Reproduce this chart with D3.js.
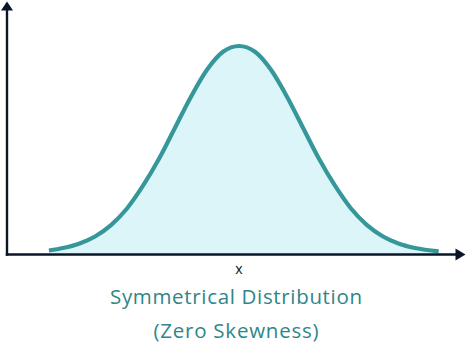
<!DOCTYPE html>
<html>
<head>
<meta charset="utf-8">
<script src="https://cdn.jsdelivr.net/npm/d3@7"></script>
<style>
  body { margin: 0; background: #fff; }
  svg { display: block; }
</style>
</head>
<body>
<svg id="chart"></svg>
<script>
// curve: x in standard deviations, y as share of peak height
const xValues = [-2.97, -2.75, -2.5, -2.25, -2.0, -1.75, -1.5, -1.25, -1.0, -0.75, -0.5, -0.25, 0,
  0.25, 0.5, 0.75, 1.0, 1.25, 1.5, 1.75, 2.0, 2.25, 2.5, 2.75, 3.12]
const yValues = [0.012, 0.024, 0.045, 0.08, 0.135, 0.215, 0.325, 0.455, 0.605, 0.755, 0.885, 0.972, 1,
  0.972, 0.885, 0.755, 0.605, 0.455, 0.325, 0.215, 0.135, 0.08, 0.045, 0.024, 0.008]
const xLabel = 'x'
const titleLines = ['Symmetrical Distribution', '(Zero Skewness)']
const titleWidths = [252, 165]

const width = 467
const height = 351
const originX = 7
const originY = 254.5

const svg = d3.select('#chart')
  .attr('width', width)
  .attr('height', height)

const xScale = d3.scaleLinear()
  .domain([-3, 3])
  .range([239 - 3 * 64, 239 + 3 * 64])
const yScale = d3.scaleLinear()
  .domain([0, 1])
  .range([253, 46])

const points = xValues.map((x, i) => ({ x: x, y: yValues[i] }))

const area = d3.area()
  .x((d) => xScale(d.x))
  .y0(originY - 1)
  .y1((d) => yScale(d.y))
  .curve(d3.curveMonotoneX)

const line = d3.line()
  .x((d) => xScale(d.x))
  .y((d) => yScale(d.y))
  .curve(d3.curveMonotoneX)

svg.append('path')
  .datum(points)
  .attr('d', area)
  .style('fill', '#dbf5f9')

svg.append('path')
  .datum(points)
  .attr('d', line)
  .style('fill', 'none')
  .style('stroke', '#36979a')
  .style('stroke-width', 4.2)

// axes with arrow heads
const axisColor = '#0b1528'
svg.append('line')
  .attr('x1', originX).attr('y1', 9)
  .attr('x2', originX).attr('y2', originY + 1.2)
  .style('stroke', axisColor)
  .style('stroke-width', 2.4)
svg.append('line')
  .attr('x1', originX - 1.2).attr('y1', originY)
  .attr('x2', 457).attr('y2', originY)
  .style('stroke', axisColor)
  .style('stroke-width', 2.4)
svg.append('path')
  .attr('d', `M${originX},1.5 L${originX + 6},10.5 L${originX - 6},10.5 Z`)
  .style('fill', axisColor)
svg.append('path')
  .attr('d', `M465.5,${originY} L455.5,${originY - 6} L455.5,${originY + 6} Z`)
  .style('fill', axisColor)

svg.append('text')
  .attr('x', 239)
  .attr('y', 273.5)
  .style('text-anchor', 'middle')
  .style('font-family', '"Open Sans", sans-serif')
  .style('font-size', '14px')
  .style('fill', '#111')
  .text(xLabel)

svg.selectAll('.title')
  .data(titleLines)
  .enter()
  .append('text')
  .classed('title', true)
  .attr('x', 236)
  .attr('y', (d, i) => 304 + i * 34)
  .attr('textLength', (d, i) => titleWidths[i])
  .attr('lengthAdjust', 'spacing')
  .style('text-anchor', 'middle')
  .style('font-family', '"Open Sans", sans-serif')
  .style('font-size', '20.5px')
  .style('fill', '#2f8688')
  .text((d) => d)
</script>
</body>
</html>
